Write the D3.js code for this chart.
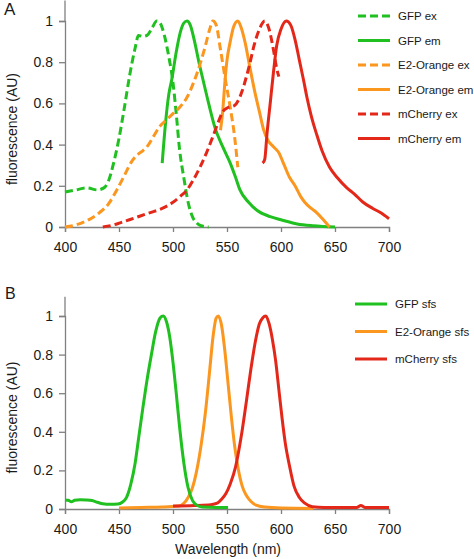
<!DOCTYPE html>
<html>
<head>
<meta charset="utf-8">
<script src="https://cdn.jsdelivr.net/npm/d3@7"></script>
<style>
  body { margin: 0; background: #fff; }
  svg { display: block; font-family: "Liberation Sans", Arial, sans-serif; }
  .axis path, .axis line { stroke: #808080; stroke-width: 1.3; }
  .axis text { font-size: 14px; fill: #1a1a1a; font-family: "Liberation Sans", Arial, sans-serif; }
  .legend text { font-size: 11.5px; fill: #1a1a1a; }
</style>
</head>
<body>
<script>
'use strict';

// tick labels
const xTicks = [400, 450, 500, 550, 600, 650, 700];
const yTicks = [0, 0.2, 0.4, 0.6, 0.8, 1];

// panel A series, [wavelength nm, fluorescence]
const gfpEx = [[400,0.17],[410,0.18],[420,0.19],[430,0.18],[436,0.19],[440,0.22],[445,0.31],[450,0.43],[455,0.58],[460,0.74],[465,0.87],[468,0.93],[472,0.925],[476,0.93],[480,0.96],[485,1.0],[488,0.99],[492,0.93],[496,0.83],[500,0.7],[503,0.55],[506,0.38],[510,0.24],[514,0.12],[518,0.05],[522,0.02],[526,0.006],[533,0.0]];
const gfpEm = [[490,0.31],[493,0.5],[496,0.64],[499,0.72],[503,0.85],[507,0.95],[510,0.99],[513,1.0],[516,0.98],[520,0.9],[524,0.8],[528,0.71],[533,0.6],[539,0.48],[546,0.39],[553,0.31],[558,0.24],[562,0.18],[570,0.12],[578,0.08],[590,0.05],[600,0.035],[615,0.015],[630,0.006],[650,0.0]];
const orangeEx = [[400,0.0],[410,0.01],[420,0.03],[432,0.07],[440,0.11],[448,0.18],[455,0.25],[462,0.32],[467,0.35],[472,0.37],[476,0.39],[482,0.44],[488,0.49],[494,0.52],[500,0.55],[506,0.58],[513,0.63],[519,0.7],[525,0.79],[530,0.88],[534,0.96],[537,1.0],[540,0.98],[544,0.86],[548,0.73],[553,0.58],[557,0.44],[560,0.29]];
const orangeEm = [[544,0.47],[546,0.56],[548,0.7],[550,0.81],[553,0.9],[556,0.97],[560,1.0],[563,0.97],[567,0.89],[571,0.78],[576,0.65],[580,0.56],[584,0.47],[588,0.42],[593,0.39],[598,0.36],[603,0.3],[608,0.24],[613,0.2],[618,0.15],[622,0.12],[628,0.09],[633,0.07],[640,0.03],[645,0.0]];
const cherryEx = [[435,0.0],[445,0.01],[451,0.02],[465,0.045],[479,0.07],[490,0.09],[500,0.12],[507,0.15],[513,0.18],[519,0.23],[525,0.29],[531,0.36],[537,0.44],[542,0.51],[546,0.56],[551,0.58],[557,0.59],[561,0.62],[564,0.66],[568,0.73],[571,0.79],[575,0.88],[580,0.96],[585,1.0],[589,0.96],[593,0.86],[596,0.77],[598,0.73]];
const cherryEm = [[583,0.31],[585,0.33],[587,0.45],[590,0.6],[593,0.75],[596,0.88],[600,0.96],[605,1.0],[609,0.98],[613,0.91],[617,0.81],[621,0.71],[624,0.63],[628,0.54],[633,0.45],[638,0.37],[645,0.29],[652,0.24],[661,0.19],[668,0.16],[676,0.12],[685,0.09],[692,0.07],[700,0.04]];

// panel B series
const gfpSfs = [[400,0.047],[403,0.045],[406,0.038],[409,0.045],[414,0.048],[420,0.047],[425,0.044],[430,0.035],[435,0.027],[442,0.024],[449,0.026],[453,0.035],[457,0.06],[461,0.13],[465,0.24],[468,0.36],[472,0.52],[476,0.67],[480,0.8],[484,0.92],[488,0.99],[491,1.0],[494,0.97],[497,0.89],[500,0.76],[503,0.6],[506,0.43],[510,0.24],[514,0.11],[518,0.045],[522,0.02],[527,0.01],[540,0.008],[551,0.008]];
const orangeSfs = [[450,0.005],[470,0.008],[490,0.01],[505,0.015],[510,0.03],[514,0.06],[518,0.11],[522,0.2],[526,0.33],[530,0.5],[534,0.72],[537,0.89],[540,0.99],[542,1.0],[545,0.95],[548,0.82],[551,0.65],[554,0.48],[557,0.33],[560,0.22],[564,0.12],[568,0.07],[572,0.04],[577,0.02],[585,0.01],[600,0.005],[630,0.003]];
const cherrySfs = [[500,0.015],[520,0.018],[535,0.022],[541,0.03],[545,0.05],[549,0.08],[553,0.13],[558,0.22],[563,0.37],[568,0.56],[572,0.72],[576,0.86],[580,0.96],[583,0.99],[586,1.0],[589,0.96],[592,0.88],[595,0.77],[598,0.62],[601,0.47],[604,0.34],[608,0.22],[612,0.12],[617,0.06],[622,0.03],[629,0.012],[640,0.008],[670,0.008],[674,0.018],[678,0.008],[700,0.008]];

const green = "#1fc01f";
const orange = "#fb961e";
const red = "#e3281a";

const seriesA = [
  { name: "GFP ex", data: gfpEx, color: green, dash: true },
  { name: "GFP em", data: gfpEm, color: green, dash: false },
  { name: "E2-Orange ex", data: orangeEx, color: orange, dash: true },
  { name: "E2-Orange em", data: orangeEm, color: orange, dash: false },
  { name: "mCherry ex", data: cherryEx, color: red, dash: true },
  { name: "mCherry em", data: cherryEm, color: red, dash: false }
];
const seriesB = [
  { name: "GFP sfs", data: gfpSfs, color: green, dash: false },
  { name: "E2-Orange sfs", data: orangeSfs, color: orange, dash: false },
  { name: "mCherry sfs", data: cherrySfs, color: red, dash: false }
];
// draw order for panel B (green on top)
const drawOrderB = [1, 2, 0];

const svg = d3.select("body").append("svg")
  .attr("width", 474)
  .attr("height", 559);

function drawPanel(series, order, y0, y1, legendX, legendY, legendStep) {
  let x = d3.scaleLinear().domain([400, 700]).range([65, 389]);
  let y = d3.scaleLinear().domain([0, 1]).range([y0, y1]);

  let g = svg.append("g");

  g.append("g")
    .attr("class", "axis")
    .attr("transform", "translate(0," + y0 + ")")
    .call(d3.axisBottom(x).tickValues(xTicks).tickSizeOuter(0).tickSize(5).tickPadding(10));

  g.append("g")
    .attr("class", "axis")
    .attr("transform", "translate(65,0)")
    .call(d3.axisLeft(y).tickValues(yTicks).tickSizeOuter(0).tickSize(6).tickPadding(6)
      .tickFormat(d3.format("~g")));
  // extend y axis a bit above 1
  g.append("line")
    .attr("x1", 65).attr("x2", 65)
    .attr("y1", y(1)).attr("y2", y(1.1))
    .attr("stroke", "#808080").attr("stroke-width", 1.3);

  let line = d3.line()
    .x((d) => x(d[0]))
    .y((d) => y(d[1]))
    .curve(d3.curveMonotoneX);

  order.forEach((i) => {
    let s = series[i];
    g.append("path")
      .datum(s.data)
      .attr("fill", "none")
      .attr("stroke", s.color)
      .attr("stroke-width", 3)
      .attr("stroke-dasharray", s.dash ? "8,4" : null)
      .attr("d", line);
  });

  // legend
  let lg = g.append("g").attr("class", "legend");
  series.forEach((s, i) => {
    let ly = legendY + i * legendStep;
    lg.append("line")
      .attr("x1", legendX).attr("x2", legendX + 32)
      .attr("y1", ly).attr("y2", ly)
      .attr("stroke", s.color)
      .attr("stroke-width", 3)
      .attr("stroke-dasharray", s.dash ? "8,4" : null);
    lg.append("text")
      .attr("x", legendX + 40)
      .attr("y", ly + 4)
      .text(s.name);
  });

  g.append("text")
    .attr("transform", "translate(17," + ((y0 + y1) / 2 + 5) + ")rotate(-90)")
    .attr("text-anchor", "middle")
    .style("font-size", "14px")
    .attr("fill", "#1a1a1a")
    .text("fluorescence (AU)");
}

drawPanel(seriesA, [0, 1, 2, 3, 4, 5], 227, 21, 358, 16, 24.5);
drawPanel(seriesB, drawOrderB, 509, 316, 355, 304, 27.5);

svg.append("text")
  .attr("x", 4).attr("y", 15)
  .style("font-size", "17px")
  .attr("fill", "#1a1a1a")
  .text("A");

svg.append("text")
  .attr("x", 5).attr("y", 299)
  .style("font-size", "16px")
  .attr("fill", "#1a1a1a")
  .text("B");

svg.append("text")
  .attr("x", 228).attr("y", 554)
  .attr("text-anchor", "middle")
  .style("font-size", "14px")
  .attr("fill", "#1a1a1a")
  .text("Wavelength (nm)");
</script>
</body>
</html>
